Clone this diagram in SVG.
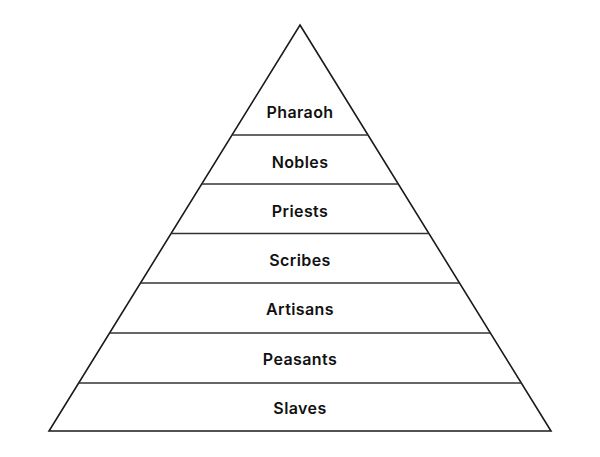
<svg xmlns="http://www.w3.org/2000/svg" width="600" height="457" viewBox="0 0 600 457">
<style>
.edge{stroke:#1a1a1a;stroke-width:1.6;fill:none;stroke-linejoin:miter}
.sep{stroke:#333;stroke-width:1.6}
.lbl{font-family:Inter,"Liberation Sans",sans-serif;font-weight:600;font-size:16px;letter-spacing:0.4px;fill:#111;text-anchor:middle}
</style>
<rect width="600" height="457" fill="#fff"/>
<g id="pyramid">
<polygon class="edge" points="300,25 551,431 49,431"/>
</g>
<g id="connectors">
<line class="sep" x1="232" y1="135" x2="368" y2="135"/>
<line class="sep" x1="202" y1="184" x2="398" y2="184"/>
<line class="sep" x1="171.5" y1="233.5" x2="428.5" y2="233.5"/>
<line class="sep" x1="141" y1="283" x2="459" y2="283"/>
<line class="sep" x1="110" y1="333" x2="490" y2="333"/>
<line class="sep" x1="79" y1="383" x2="521" y2="383"/>
</g>
<g id="pharaoh"><text class="lbl" x="300" y="118">Pharaoh</text></g>
<g id="nobles"><text class="lbl" x="300" y="167.5">Nobles</text></g>
<g id="priests"><text class="lbl" x="300" y="217">Priests</text></g>
<g id="scribes"><text class="lbl" x="300" y="266">Scribes</text></g>
<g id="artisans"><text class="lbl" x="300" y="315">Artisans</text></g>
<g id="peasants"><text class="lbl" x="300" y="364.5">Peasants</text></g>
<g id="slaves"><text class="lbl" x="300" y="414">Slaves</text></g>
</svg>
